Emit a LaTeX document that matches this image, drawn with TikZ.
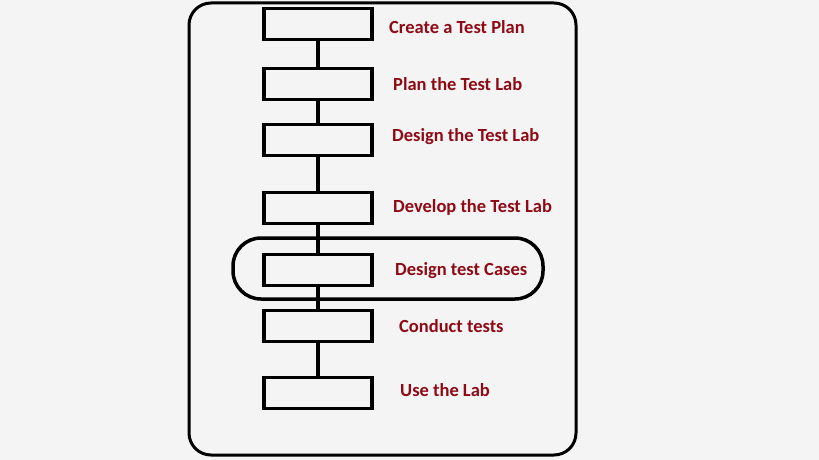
\documentclass[tikz,border=0pt]{standalone}
\usepackage{fontspec}
\setmainfont{Carlito}
\definecolor{bg}{HTML}{F4F4F4}
\definecolor{lab}{HTML}{8E0B16}
\begin{document}
\begin{tikzpicture}[x=1pt,y=-1pt,
  stepbox/.style={draw=black,line width=3.5pt,fill=bg,minimum width=108pt,minimum height=31pt,inner sep=0pt},
  lbl/.style={anchor=west,text=lab,font=\bfseries\fontsize{18.5}{20}\selectfont,inner sep=0pt},
  link/.style={line width=3.5pt}]
\fill[bg] (0,0) rectangle (819,460);
\useasboundingbox (0,0) rectangle (819,460);
\draw[line width=3pt,rounded corners=22pt] (189,3) rectangle (576,455);
\draw[line width=3.5pt,rounded corners=28pt] (233,238) rectangle (543,299);
\node[stepbox] (b1) at (318,24) {};
\node[stepbox] (b2) at (318,84) {};
\node[stepbox] (b3) at (318,140) {};
\node[stepbox] (b4) at (318,208) {};
\node[stepbox] (b5) at (318,270) {};
\node[stepbox] (b6) at (318,326) {};
\node[stepbox] (b7) at (318,393) {};
\draw[link] (b1) -- (b2) (b2) -- (b3) (b3) -- (b4) (b4) -- (b5) (b5) -- (b6) (b6) -- (b7);
\node[lbl] (t1) at (389,27) {Create a Test Plan};
\node[lbl] (t2) at (393,84) {Plan the Test Lab};
\node[lbl] (t3) at (392,137) {Design the Test Lab};
\node[lbl] (t4) at (393,207) {Develop the Test Lab};
\node[lbl] (t5) at (395,271) {Design test Cases};
\node[lbl] (t6) at (399,326) {Conduct tests};
\node[lbl] (t7) at (400,390) {Use the Lab};
\end{tikzpicture}
\end{document}
